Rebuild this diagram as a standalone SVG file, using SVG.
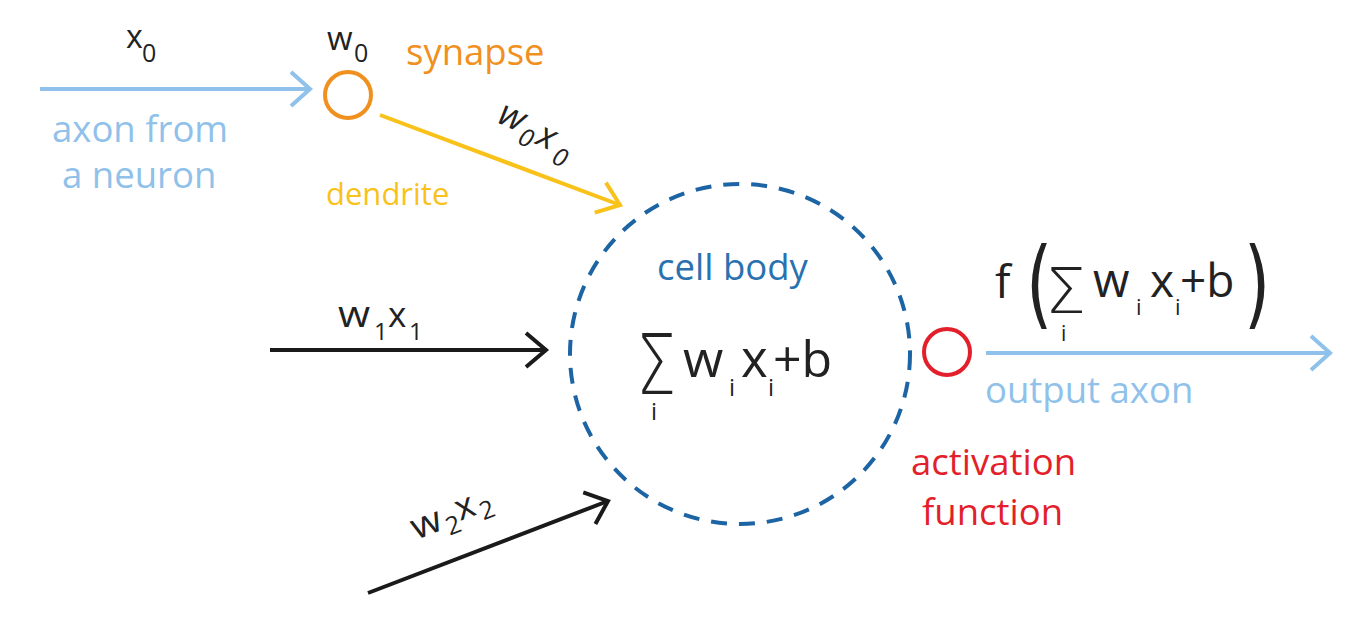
<svg xmlns="http://www.w3.org/2000/svg" width="1369" height="625" viewBox="0 0 1369 625">
  <style>
    text { font-family: "Open Sans", "Liberation Sans", sans-serif; }
    .lbl { font-size: 36.5px; }
    .math { fill: #222; }
    .sub { font-size: 24px; fill: #222; }
    .big { font-family: "DejaVu Sans", "Liberation Sans", sans-serif; font-weight: 200; fill: #222; }
    .paren { font-family: "DejaVu Sans", "Liberation Sans", sans-serif; fill: #222; }
    .lblue { fill: #8fc1ea; }
    .orange { fill: #f0901e; }
    .yellow { fill: #f9c21a; }
    .dblue { fill: #2a71b0; }
    .red { fill: #e31f2b; }
    .conn { fill: none; stroke-width: 4; }
  </style>
  <defs>
    <marker id="ah-blue" markerUnits="userSpaceOnUse" markerWidth="40" markerHeight="40" refX="0" refY="0" orient="auto" overflow="visible">
      <path d="M-19,-17 L0,0 L-19,17" fill="none" stroke="#8fc1ea" stroke-width="4"/>
    </marker>
    <marker id="ah-yellow" markerUnits="userSpaceOnUse" markerWidth="40" markerHeight="40" refX="0" refY="0" orient="auto" overflow="visible">
      <path d="M-21,-16 L0,0 L-21,16" fill="none" stroke="#f9c21a" stroke-width="4"/>
    </marker>
    <marker id="ah-black" markerUnits="userSpaceOnUse" markerWidth="40" markerHeight="40" refX="0" refY="0" orient="auto" overflow="visible">
      <path d="M-20,-17 L0,0 L-20,17" fill="none" stroke="#1a1a1a" stroke-width="4"/>
    </marker>
  </defs>

  <g id="connectors">
    <line class="conn" x1="40" y1="89" x2="310" y2="89" stroke="#8fc1ea" marker-end="url(#ah-blue)"/>
    <line class="conn" x1="380" y1="115" x2="620" y2="205" stroke="#f9c21a" marker-end="url(#ah-yellow)"/>
    <line class="conn" x1="270" y1="350" x2="546" y2="350" stroke="#1a1a1a" marker-end="url(#ah-black)"/>
    <line class="conn" x1="368" y1="593" x2="608" y2="501" stroke="#1a1a1a" marker-end="url(#ah-black)"/>
    <line class="conn" x1="986" y1="353" x2="1330" y2="353" stroke="#8fc1ea" marker-end="url(#ah-blue)"/>
  </g>

  <g id="input-axon">
    <text class="math" x="126" y="48" font-size="32">x</text>
    <text class="sub" x="142" y="62" style="font-size:25px">0</text>
    <text class="lbl lblue" x="52" y="142">axon from</text>
    <text class="lbl lblue" x="62" y="188">a neuron</text>
  </g>

  <g id="synapse">
    <circle cx="348" cy="95" r="23" fill="none" stroke="#f0901e" stroke-width="4"/>
    <text class="math" x="327" y="50" font-size="33">w</text>
    <text class="sub" x="354" y="62" style="font-size:25px">0</text>
    <text class="lbl orange" x="406" y="65">synapse</text>
  </g>

  <g id="dendrite">
    <text class="lbl yellow" x="326" y="205" style="font-size:31px">dendrite</text>
    <g transform="translate(496,122) rotate(24)" font-style="italic">
      <text class="math" x="0" y="0" font-size="36">w</text>
      <text class="sub" x="27" y="11" style="font-size:25px">0</text>
      <text class="math" x="44" y="4" font-size="36">x</text>
      <text class="sub" x="66" y="15" style="font-size:25px">0</text>
    </g>
  </g>

  <g id="input-w1">
    <text class="math" transform="translate(338,327) scale(1.15,1)" font-size="36">w</text>
    <text class="sub" x="374" y="340">1</text>
    <text class="math" x="388" y="327" font-size="35">x</text>
    <text class="sub" x="409" y="340">1</text>
  </g>

  <g id="input-w2">
    <g transform="translate(416,540) rotate(-21)">
      <text class="math" transform="scale(1.1,1)" font-size="36">w</text>
      <text class="sub" x="33" y="8" style="font-size:25px">2</text>
      <text class="math" x="48" y="-2" font-size="36">x</text>
      <text class="sub" x="70" y="6" style="font-size:25px">2</text>
    </g>
  </g>

  <g id="cell-body">
    <circle cx="740" cy="354" r="170" fill="none" stroke="#1c64a3" stroke-width="4" stroke-dasharray="16 12"/>
    <text class="lbl dblue" x="657" y="280">cell body</text>
    <text class="big" transform="translate(636,394) scale(0.76,1)" font-size="84">Σ</text>
    <text class="sub" x="651" y="420" style="font-size:24px">i</text>
    <text class="math" x="683" y="377" font-size="52">w</text>
    <text class="sub" x="729" y="396" style="font-size:24px">i</text>
    <text class="math" x="741" y="377" font-size="51">x</text>
    <text class="sub" x="768" y="396" style="font-size:24px">i</text>
    <text class="math" x="773" y="377" font-size="50">+b</text>
  </g>

  <g id="activation">
    <circle cx="947" cy="352" r="23" fill="none" stroke="#e31f2b" stroke-width="4"/>
    <text class="lbl red" x="911" y="475">activation</text>
    <text class="lbl red" x="922" y="525">function</text>
  </g>

  <g id="output">
    <text class="math" x="995" y="298" font-size="46">f</text>
    <text class="paren" transform="translate(1026,316) scale(0.7,1)" font-size="96">(</text>
    <text class="big" transform="translate(1045,313) scale(1.05,1)" font-size="62">Σ</text>
    <text class="sub" x="1061" y="341" style="font-size:21px">i</text>
    <text class="math" x="1093" y="297" font-size="47">w</text>
    <text class="sub" x="1136" y="315" style="font-size:22px">i</text>
    <text class="math" x="1150" y="297" font-size="46">x</text>
    <text class="sub" x="1175" y="315" style="font-size:22px">i</text>
    <text class="math" x="1180" y="297" font-size="46">+b</text>
    <text class="paren" transform="translate(1244,316) scale(0.7,1)" font-size="96">)</text>
    <text class="lbl lblue" x="985" y="403">output axon</text>
  </g>
</svg>
